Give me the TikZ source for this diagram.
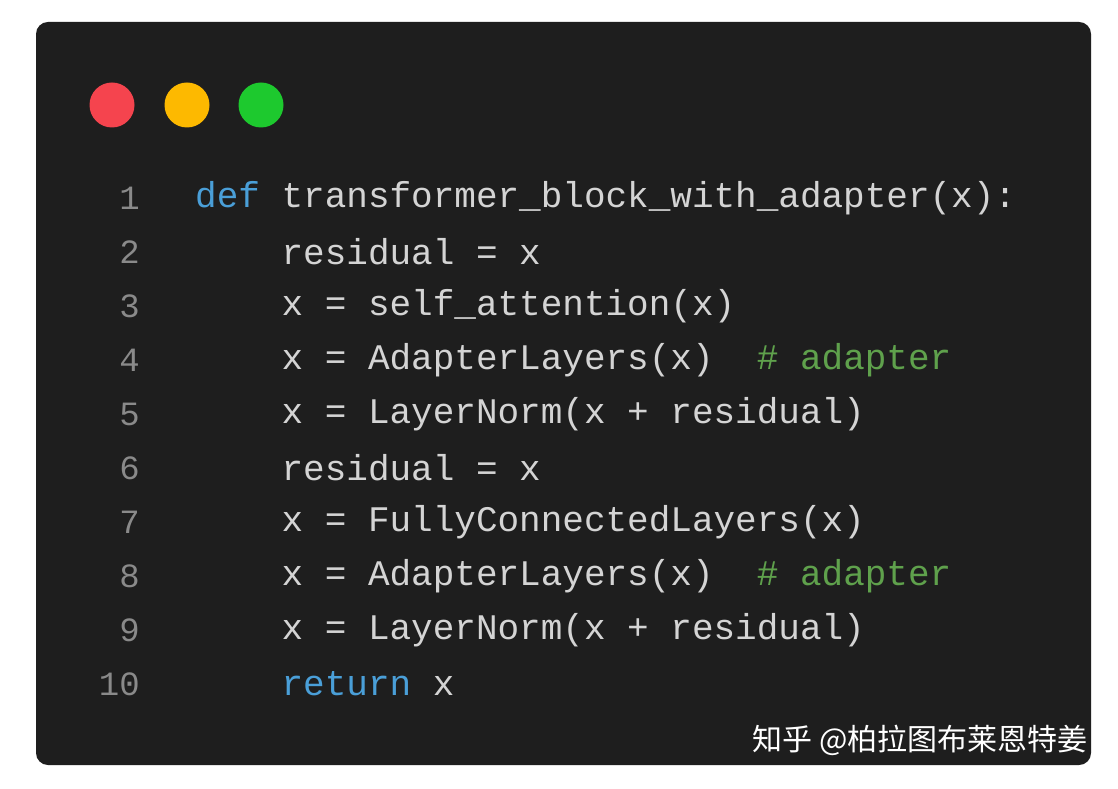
\documentclass[tikz,border=0pt]{standalone}
\usepackage{fontspec}
\newfontfamily\codefont{Liberation Mono}
\newfontfamily\cjk{Noto Sans CJK SC}
\definecolor{bg}{HTML}{1E1E1E}
\definecolor{codefg}{HTML}{D4D4D4}
\definecolor{kw}{HTML}{4A9FD8}
\definecolor{cm}{HTML}{5FA14C}
\definecolor{ln}{HTML}{8A8A8A}
\definecolor{cred}{HTML}{F5444E}
\definecolor{cyel}{HTML}{FDB900}
\definecolor{cgrn}{HTML}{1DC92E}
\begin{document}
\begin{tikzpicture}[x=1pt,y=1pt,
  code/.style={anchor=west,inner sep=0,text=codefg,font=\codefont\fontsize{36}{40}\selectfont},
  num/.style={anchor=east,inner sep=0,text=ln,font=\codefont\fontsize{34}{40}\selectfont}]
\useasboundingbox[fill=white] (0,0) rectangle (1118,788);
\fill[bg,rounded corners=12] (36,23) rectangle (1091,766) ;
\node[circle,fill=cred,minimum size=45,inner sep=0] (r) at (112,683) {};
\node[circle,fill=cyel,minimum size=45,inner sep=0] (y) at (187,683) {};
\node[circle,fill=cgrn,minimum size=45,inner sep=0] (g) at (261,683) {};
\foreach \i/\t in {1/{\textcolor{kw}{def} transformer\_block\_with\_adapter(x):},
 2/{\ \ \ \ residual = x},
 3/{\ \ \ \ x = self\_attention(x)},
 4/{\ \ \ \ x = AdapterLayers(x)\ \ \textcolor{cm}{\# adapter}},
 5/{\ \ \ \ x = LayerNorm(x + residual)},
 6/{\ \ \ \ residual = x},
 7/{\ \ \ \ x = FullyConnectedLayers(x)},
 8/{\ \ \ \ x = AdapterLayers(x)\ \ \textcolor{cm}{\# adapter}},
 9/{\ \ \ \ x = LayerNorm(x + residual)},
 10/{\ \ \ \ \textcolor{kw}{return} x}}{
  \node[num] (n\i) at (140,{788-198-(\i-1)*54}) {\i};
  \node[code] (c\i) at (195,{788-198-(\i-1)*54}) {\t};
}
\node[anchor=east,inner sep=0,text=white,font=\cjk\fontsize{30}{34}\selectfont] (wm) at (1088,48) {知乎 @柏拉图布莱恩特姜};
\end{tikzpicture}
\end{document}
